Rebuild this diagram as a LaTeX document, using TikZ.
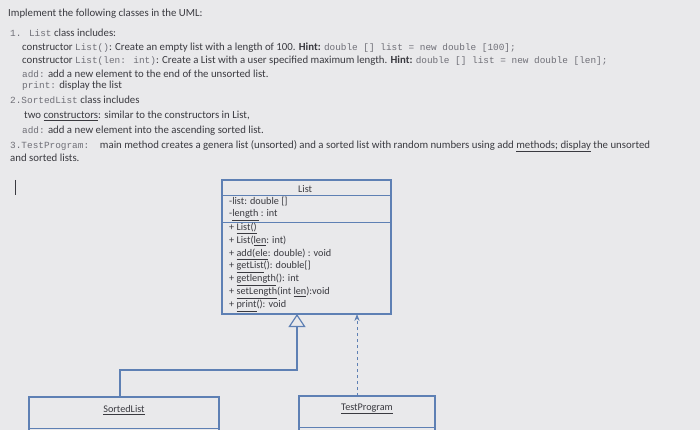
\documentclass[tikz,border=0pt]{standalone}
\usepackage{fontspec}
\setmainfont{Carlito}
\newfontfamily\codefont{Liberation Mono}
\usetikzlibrary{arrows.meta}
\definecolor{bg}{HTML}{E9E9EB}
\definecolor{txt}{HTML}{3A3A40}
\definecolor{code}{HTML}{707078}
\definecolor{uml}{HTML}{5E80B4}
\newcommand{\cd}[1]{{\codefont\fontsize{9.4}{10}\selectfont\color{code}#1}}
\tikzset{
  line/.style={anchor=west,inner sep=0pt,text=txt,font=\fontsize{10.8}{11}\selectfont},
  mem/.style={anchor=west,inner sep=0pt,text=txt,font=\fontsize{10.2}{11}\selectfont},
  umlbox/.style={draw=uml,line width=1.2pt},
}
\begin{document}
\begin{tikzpicture}[x=1pt,y=-1pt]
\fill[bg] (0,0) rectangle (700,430);
\useasboundingbox (0,0) rectangle (700,430);
\node[line] (t0) at (8,14) {Implement the following classes in the UML:};
\node[line] (t1) at (10,33) {\cd{1. List} class includes:};
\node[line] (t2) at (22,48) {constructor \cd{List()}: Create an empty list with a length of 100. \textbf{Hint:} \cd{double [] list = new double [100];}};
\node[line] (t3) at (22,61) {constructor \cd{List(len: int)}: Create a List with a user specified maximum length. \textbf{Hint:} \cd{double [] list = new double [len];}};
\node[line] (t4) at (22,74) {\cd{add:} add a new element to the end of the unsorted list.};
\node[line] (t5) at (22,86) {\cd{print:} display the list};
\node[line] (t6) at (10,100) {\cd{2.SortedList} class includes};
\node[line] (t7) at (24,116) {two \underline{constructors}: similar to the constructors in List,};
\node[line] (t8) at (22,131) {\cd{add:} add a new element into the ascending sorted list.};
\node[line] (t9) at (10,146) {\cd{3.TestProgram:}\quad main method creates a genera list (unsorted) and a sorted list with random numbers using add \underline{methods; display} the unsorted};
\node[line] (t10) at (10,158) {and sorted lists.};
\draw[txt,line width=0.6pt] (15,180) -- (15,195);
% List box
\draw[umlbox] (222,180) rectangle (391,314);
\draw[uml,line width=0.6pt] (222,195) -- (391,195);
\draw[uml,line width=0.6pt] (222,222) -- (391,222);
\coordinate (lbot) at (297,314);
\coordinate (ldep) at (357,314);
\node[mem] (ltitle) at (298,189) {List};
\node[mem] (a1) at (229,202) {-list: double []};
\node[mem] (a2) at (229,215) {-\underline{length} : int};
\node[mem] (m1) at (229,228) {+ \underline{List()}};
\node[mem] (m2) at (229,241) {+ List(\underline{len}: int)};
\node[mem] (m3) at (229,254) {+ \underline{add(ele}: double) : void};
\node[mem] (m4) at (229,267) {+ \underline{getList}(): double[]};
\node[mem] (m5) at (229,280) {+ \underline{getlength}(): int};
\node[mem] (m6) at (229,293) {+ \underline{setLength}(int \underline{len}):void};
\node[mem] (m7) at (229,306) {+ \underline{print}(): void};
% SortedList
\draw[umlbox] (29,430) |- (219,397) -- (219,430);
\draw[uml,line width=0.6pt] (29,428) -- (219,428);
\coordinate (stop) at (120,397);
\node[mem,anchor=center] (sl) at (124,410) {\underline{SortedList}};
% TestProgram
\draw[umlbox] (299,430) |- (435,396) -- (435,430);
\draw[uml,line width=0.6pt] (299,427) -- (435,427);
\coordinate (ttop) at (357,396);
\node[mem,anchor=center] (tp) at (367,409) {\underline{TestProgram}};
% connectors
\draw[uml,line width=1.2pt,-{Triangle[open,length=13pt,width=17pt]}] (stop) -- (120,370) -- (297,370) -- (lbot);
\draw[uml,line width=1pt,dashed,-{Stealth[length=7pt]}] (ttop) -- (ldep);
\end{tikzpicture}
\end{document}
